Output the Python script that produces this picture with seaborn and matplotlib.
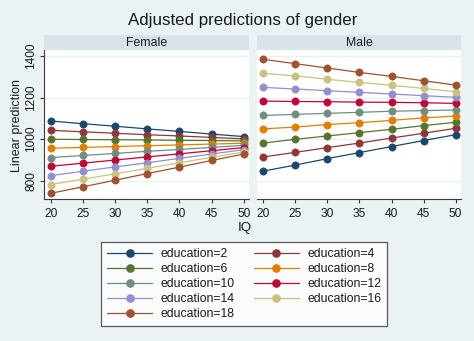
import matplotlib
matplotlib.use("Agg")
import matplotlib.pyplot as plt
from matplotlib.lines import Line2D
from matplotlib.patches import Rectangle
import seaborn as sns
import pandas as pd

# Predictive margins by IQ for each education level, split by gender
iq = [20, 25, 30, 35, 40, 45, 50]
education = [2, 4, 6, 8, 10, 12, 14, 16, 18]

female_pred = {
    2:  [1087, 1074, 1062, 1049, 1037, 1024, 1012],
    4:  [1042, 1035, 1028, 1021, 1015, 1008, 1001],
    6:  [999, 998, 997, 996, 994, 993, 991],
    8:  [956, 960, 964, 968, 972, 976, 980],
    10: [911, 921, 931, 941, 950, 960, 970],
    12: [869, 884, 899, 914, 929, 944, 959],
    14: [824, 845, 866, 886, 907, 928, 949],
    16: [781, 807, 833, 859, 886, 912, 938],
    18: [739, 770, 802, 834, 865, 897, 928],
}
male_pred = {
    2:  [846, 875, 906, 935, 964, 993, 1021],
    4:  [914, 936, 959, 981, 1005, 1028, 1052],
    6:  [981, 999, 1015, 1031, 1047, 1065, 1081],
    8:  [1049, 1058, 1070, 1079, 1090, 1102, 1111],
    10: [1114, 1119, 1124, 1129, 1134, 1137, 1140],
    12: [1183, 1181, 1180, 1178, 1177, 1175, 1172],
    14: [1249, 1241, 1233, 1225, 1217, 1209, 1201],
    16: [1317, 1304, 1288, 1273, 1259, 1244, 1228],
    18: [1384, 1363, 1342, 1321, 1302, 1281, 1260],
}
genders = ["Female", "Male"]
yticks = [800, 1000, 1200, 1400]
xticks = iq

colors = ["#1a476f", "#90353b", "#55752f", "#e37e00", "#6e8e84",
          "#c10534", "#938dd2", "#cac27e", "#a0522d"]

rows = []
for g, table in zip(genders, [female_pred, male_pred]):
    for e in education:
        for x, y in zip(iq, table[e]):
            rows.append({"gender": g, "education": f"education={e}", "IQ": x, "pred": y})
df = pd.DataFrame(rows)
hue_order = [f"education={e}" for e in education]

sns.set_theme(style="white")
plt.rcParams["font.family"] = ["Liberation Sans", "DejaVu Sans"]

BG = "#eaf2f3"
STRIP = "#d7e3e9"
AXC = "#3a3a3a"
W, H = 474, 341
fig = plt.figure(figsize=(W / 100, H / 100), dpi=100, facecolor=BG)

def fx(px):
    return px / W

def fy(py):
    return 1 - py / H

panels = [(44.3, 249.3), (257.0, 461.0)]
top, bottom = 50.0, 199.3
axes = []
for i, (g, (x0, x1)) in enumerate(zip(genders, panels)):
    ax = fig.add_axes([fx(x0), fy(bottom), fx(x1 - x0), (bottom - top) / H])
    ax.set_facecolor("white")
    sub = df[df["gender"] == g]
    sns.lineplot(data=sub, x="IQ", y="pred", hue="education", hue_order=hue_order,
                 palette=colors, marker="o", markersize=5.2, linewidth=0.9,
                 legend=False, ax=ax, zorder=3)
    for ln in ax.lines:
        ln.set_markeredgecolor(ln.get_color())
        ln.set_markeredgewidth(0.5)
    ax.set_xlim(19.0, 50.85)
    ax.set_ylim(710, 1429)
    ax.set_xticks(xticks)
    ax.set_yticks(yticks)
    ax.grid(axis="y", color=BG, linewidth=1.0, zorder=0)
    ax.set_axisbelow(True)
    ax.set_xlabel("")
    ax.set_ylabel("")
    for s in ["top", "right"]:
        ax.spines[s].set_visible(False)
    ax.spines["bottom"].set_color(AXC)
    ax.spines["bottom"].set_linewidth(0.8)
    ax.tick_params(axis="x", bottom=True, length=3, width=0.8, color=AXC,
                   pad=3.5, labelsize=8.6, labelcolor="#1a1a1a")
    if i == 0:
        ax.spines["left"].set_color(AXC)
        ax.spines["left"].set_linewidth(0.8)
        ax.tick_params(axis="y", left=True, length=3, width=0.8, color=AXC,
                       pad=2.2, labelsize=8.6, labelcolor="#1a1a1a")
        for lab in ax.get_yticklabels():
            lab.set_rotation(90)
            lab.set_va("center")
    else:
        ax.spines["left"].set_visible(False)
        ax.tick_params(axis="y", left=False, labelleft=False)
    # panel header strip
    fig.patches.append(Rectangle((fx(x0), fy(50)), fx(x1 - x0), 15 / H,
                                 transform=fig.transFigure, facecolor=STRIP,
                                 edgecolor="none", zorder=0))
    fig.text(fx((x0 + x1) / 2), fy(42.5), g, ha="center", va="center",
             fontsize=8.8, color="#1a1a1a")
    axes.append(ax)

fig.text(fx(243), fy(20), "Adjusted predictions of gender", ha="center", va="center",
         fontsize=12.2, color="#1a1a1a")
fig.text(fx(17), fy(126), "Linear prediction", ha="center", va="center",
         rotation=90, fontsize=9.0, color="#1a1a1a")
fig.text(fx(245), fy(228), "IQ", ha="center", va="center", fontsize=9.6,
         color="#1a1a1a")

handles = [Line2D([0], [0], color=c, linewidth=0.9, marker="o", markersize=5.2,
                  markeredgecolor=c) for c in colors]
# legend fills by column, so reorder to read row by row
order = list(range(0, len(handles), 2)) + list(range(1, len(handles), 2))
leg = fig.legend([handles[k] for k in order], [hue_order[k] for k in order],
                 loc="center", ncol=2,
                 bbox_to_anchor=(fx(244), fy(284)), frameon=True, fancybox=False,
                 fontsize=8.8, handlelength=3.7, handletextpad=0.65,
                 columnspacing=1.6, labelspacing=0.25, borderpad=0.45)
leg.get_frame().set_edgecolor("#333333")
leg.get_frame().set_linewidth(0.9)
leg.get_frame().set_facecolor("white")
for t in leg.get_texts():
    t.set_color("#1a1a1a")

fig.savefig("out.png", dpi=100, facecolor=BG)
